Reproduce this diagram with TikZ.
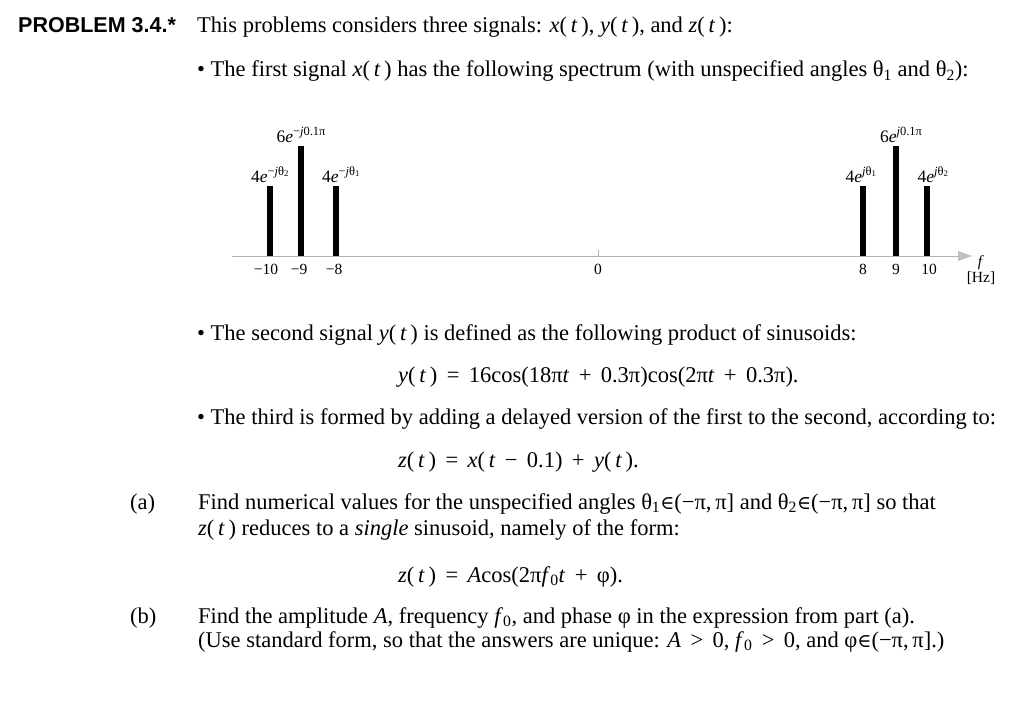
\documentclass[tikz,border=0pt]{standalone}
\usepackage{fontspec}
\setmainfont{Liberation Serif}
\newfontfamily\hsans{Liberation Sans}
\newfontfamily\djs{DejaVu Serif}
\newcommand\mi[1]{\textit{#1}}
\newcommand\sinn{\djs\fontsize{19}{20}\selectfont ∈}
\newcommand\mysup[1]{\raisebox{0.85ex}{\fontsize{12.5}{13}\selectfont #1}}
\begin{document}
\begin{tikzpicture}[x=1pt,y=-1pt,
  txt/.style={anchor=base west,inner sep=0pt,font=\fontsize{22.5}{26}\selectfont},
  lab/.style={anchor=base,inner sep=0pt,font=\fontsize{17.5}{19}\selectfont},
  tick/.style={anchor=base,inner sep=0pt,font=\fontsize{15.5}{17}\selectfont},
  bar/.style={line width=6pt}]
\useasboundingbox (0,0) rectangle (1024,725);
\node[txt,font=\hsans\bfseries\fontsize{21.5}{24}\selectfont] (ttl) at (18,33) {PROBLEM 3.4.*};
\node[txt] (t1) at (197,33) {This problems considers three signals: \mi{x}(\,\mi{t}\,), \mi{y}(\,\mi{t}\,), and \mi{z}(\,\mi{t}\,):};
\node[txt] (b1) at (197,77) {• The first signal \mi{x}(\,\mi{t}\,) has the following spectrum (with unspecified angles θ\textsubscript{1} and θ\textsubscript{2}):};
% axis
\coordinate (a0) at (232,256);
\coordinate (a1) at (958,256);
\draw[gray!60,line width=0.8pt] (a0) -- (a1);
\fill[gray!50] (958,251) -- (972,256) -- (958,261) -- cycle;
\draw[gray!60] (598,250) -- (598,256);
\foreach \x/\h/\n in {270/186/m10,301/146/m9,336/186/m8,863/186/p8,896/146/p9,927/186/p10}{
  \coordinate (\n) at (\x,256);
  \draw[bar] (\n) -- (\x,\h);
}
\node[lab] (l1) at (270,182) {4\mi{e}\mysup{−\mi{j}θ\textsubscript{2}}};
\node[lab] (l2) at (301,142) {6\mi{e}\mysup{−\mi{j}0.1π}};
\node[lab] (l3) at (341,182) {4\mi{e}\mysup{−\mi{j}θ\textsubscript{1}}};
\node[lab] (l4) at (861,182) {4\mi{e}\mysup{\mi{j}θ\textsubscript{1}}};
\node[lab] (l5) at (901,142) {6\mi{e}\mysup{\mi{j}0.1π}};
\node[lab] (l6) at (933,182) {4\mi{e}\mysup{\mi{j}θ\textsubscript{2}}};
\node[tick] at (266,274) {−10};
\node[tick] at (299,274) {−9};
\node[tick] at (334,274) {−8};
\node[tick] at (598,274) {0};
\node[tick] at (863,274) {8};
\node[tick] at (896,274) {9};
\node[tick] at (929,274) {10};
\node[tick] at (981,266) {\mi{f}};
\node[tick] at (981,282) {[Hz]};
\node[txt] (b2) at (197,340) {• The second signal \mi{y}(\,\mi{t}\,) is defined as the following product of sinusoids:};
\node[txt] (e1) at (398,382) {\mi{y}(\,\mi{t}\,) \,=\, 16cos(18π\mi{t} \,+\, 0.3π)cos(2π\mi{t} \,+\, 0.3π).};
\node[txt] (b3) at (197,424) {• The third is formed by adding a delayed version of the first to the second, according to:};
\node[txt] (e2) at (398,467) {\mi{z}(\,\mi{t}\,) \,=\, \mi{x}(\,\mi{t} \,−\, 0.1) \,+\, \mi{y}(\,\mi{t}\,).};
\node[txt] (pa) at (130,509) {(a)};
\node[txt] (a1t) at (198,509) {Find numerical values for the unspecified angles θ\textsubscript{1}{\sinn}(−π,\,π] and θ\textsubscript{2}{\sinn}(−π,\,π] so that};
\node[txt] (a2t) at (198,535) {\mi{z}(\,\mi{t}\,) reduces to a \mi{single} sinusoid, namely of the form:};
\node[txt] (e3) at (398,582) {\mi{z}(\,\mi{t}\,) \,=\, \mi{A}cos(2π\mi{f}\textsubscript{0}\mi{t} \,+\, φ).};
\node[txt] (pb) at (130,623) {(b)};
\node[txt] (b1t) at (198,623) {Find the amplitude \mi{A}, frequency \mi{f}\textsubscript{0}, and phase φ in the expression from part (a).};
\node[txt] (b2t) at (198,647) {(Use standard form, so that the answers are unique: \mi{A} \,>\, 0, \mi{f}\textsubscript{0} \,>\, 0, and φ{\sinn}(−π,\,π].)};
\end{tikzpicture}
\end{document}
